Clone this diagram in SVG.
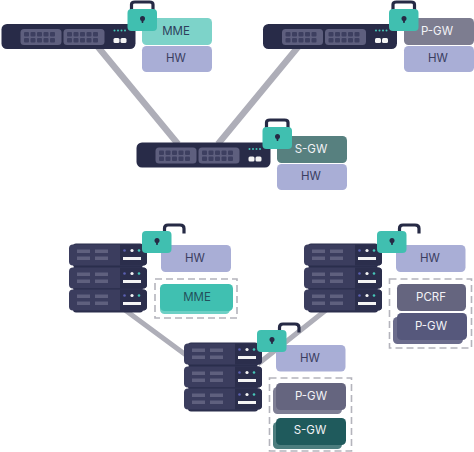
<svg xmlns="http://www.w3.org/2000/svg" xmlns:xlink="http://www.w3.org/1999/xlink" width="474" height="452" viewBox="0 0 474 452">
<style>
text{font-family:"Inter","Liberation Sans",sans-serif;font-size:11.5px;text-anchor:middle}
.hw{fill:#a9aed6}.mme{fill:#7dd3c9}.pgw{fill:#7d7d90}.sgw{fill:#57807f}
.slate{fill:#65657f}.indigo{fill:#56587c}.indigoS{fill:#6b6c8c}.teal{fill:#40c0b1}.tealS{fill:#6dd0c5}.deep{fill:#1f5a5c}.deepS{fill:#4c7d7e}.slateS{fill:#7e7e94}
.dash{fill:none;stroke:#b4b4bc;stroke-width:1.6;stroke-dasharray:7 4}
.link{stroke:#aeaeb8;fill:none}
.shackle{fill:none;stroke:#262a45;stroke-width:3.2}
</style>
<defs>
<g id="ports">
<rect width="41" height="16" rx="3.5" fill="#5e5f7e"/>
<g fill="#3d3f60"><rect x="3.5" y="3" width="5" height="4.5" rx="1"/><rect x="10" y="3" width="5" height="4.5" rx="1"/><rect x="16.500" y="3" width="5" height="4.5" rx="1"/><rect x="23" y="3" width="5" height="4.5" rx="1"/><rect x="29.500" y="3" width="5" height="4.5" rx="1"/><rect x="3.5" y="9" width="5" height="4.5" rx="1"/><rect x="10" y="9" width="5" height="4.5" rx="1"/><rect x="16.500" y="9" width="5" height="4.5" rx="1"/><rect x="23" y="9" width="5" height="4.500" rx="1"/><rect x="29.500" y="9" width="5" height="4.5" rx="1"/></g>
</g>
<g id="switch">
<rect width="134" height="25" rx="5.500" fill="#282b48"/>
<use href="#ports" x="19" y="5"/><use href="#ports" x="62" y="5"/>
<g fill="#45c6b8"><circle cx="113" cy="6.500" r="1"/><circle cx="116.500" cy="6.500" r="1"/><circle cx="120" cy="6.500" r="1"/><circle cx="123.500" cy="6.500" r="1"/></g>
<rect x="112" y="14" width="6" height="5" rx="1.500" fill="#f4f4f4"/><rect x="119" y="14" width="6" height="5" rx="1.500" fill="#f4f4f4"/>
</g>
<g id="unit">
<rect x="4" y="-1" width="70" height="24" rx="3" fill="#2b2e4c"/>
<rect width="78" height="21" rx="4" fill="#3b3d5e"/>
<path d="M51 0h23a4 4 0 0 1 4 4v13a4 4 0 0 1-4 4H51z" fill="#2b2e4c"/>
<rect x="8" y="5" width="13" height="3.500" fill="#5f607e"/><rect x="26" y="5" width="13" height="3.500" fill="#5f607e"/>
<rect x="8" y="12" width="13" height="3.500" fill="#5f607e"/><rect x="26" y="12" width="13" height="3.500" fill="#5f607e"/>
<circle cx="55.500" cy="6" r="1.300" fill="#5a5fb0"/><circle cx="63" cy="6" r="1.600" fill="#f4f4f4"/><circle cx="70" cy="6" r="1.300" fill="#45c6b8"/>
<rect x="54" y="12.500" width="18" height="3" fill="#f4f4f4"/>
</g>
<g id="server"><use href="#unit" y="0"/><use href="#unit" y="23"/><use href="#unit" y="45"/></g>
<g id="body">
<rect width="29.500" height="22" rx="4" fill="#40bfb0"/>
<circle cx="15" cy="9.500" r="2.500" fill="#262a45"/><path d="M13.700 10h2.600l-.6 4h-1.400z" fill="#262a45"/>
</g>
<g id="lockClosed"><path class="shackle" d="M4 1V-4.500Q4-7 7.500-7H22Q25.500-7 25.500-4.500V1"/><use href="#body"/></g>
<g id="lockOpen"><path class="shackle" d="M22.500 1V-2.500Q22.500-6 26-6H38Q42-6 42-2.500V2.500"/><use href="#body"/></g>
</defs>

<g id="connectors">
<path class="link" stroke-width="6.500" d="M98 47L178 144M298 47L218 144"/>
<path class="link" stroke-width="5" d="M125 310L190 358M326 310L258 364"/>
</g>

<g id="switch-mme">
<use href="#switch" x="1.500" y="24"/>
<rect class="mme" x="142" y="18" width="70" height="27" rx="4.500"/>
<rect class="hw" x="142" y="46" width="70" height="26" rx="4.500"/>
<use href="#lockClosed" x="127.500" y="9"/>
<text x="176" y="35" fill="#2d3e5c">MME</text><text x="176" y="62" fill="#3a3d60">HW</text>
</g>
<g id="switch-pgw">
<use href="#switch" x="263" y="24"/>
<rect class="pgw" x="404" y="18" width="70" height="27" rx="4.500"/>
<rect class="hw" x="404" y="46" width="70" height="26" rx="4.500"/>
<use href="#lockClosed" x="389" y="9"/>
<text x="437" y="35" fill="#f2f2f6">P-GW</text><text x="438" y="62" fill="#3a3d60">HW</text>
</g>
<g id="switch-sgw">
<use href="#switch" x="136.500" y="142.500"/>
<rect class="sgw" x="277" y="136" width="70" height="27" rx="4.500"/>
<rect class="hw" x="277" y="164" width="70" height="26" rx="4.500"/>
<use href="#lockClosed" x="262.500" y="127"/>
<text x="311" y="153" fill="#f2f2f6">S-GW</text><text x="311" y="180" fill="#3a3d60">HW</text>
</g>

<g id="server-mme">
<use href="#server" x="69" y="244.500"/>
<rect class="hw" x="161" y="245" width="70" height="27" rx="4.500"/>
<use href="#lockOpen" x="142" y="231"/>
<text x="195" y="262" fill="#3a3d60">HW</text>
<rect class="dash" x="155" y="279" width="82" height="39"/>
<rect class="tealS" x="160" y="287" width="70" height="27" rx="4.500"/>
<rect class="teal" x="160" y="284" width="73" height="27" rx="4.500"/>
<text x="197" y="301" fill="#23505c">MME</text>
</g>
<g id="server-pgw">
<use href="#server" x="304" y="244.500"/>
<rect class="hw" x="396" y="245" width="69.500" height="27" rx="4.500"/>
<use href="#lockOpen" x="377" y="231"/>
<text x="430" y="262" fill="#3a3d60">HW</text>
<rect class="dash" x="389.500" y="279" width="82" height="69"/>
<rect class="slate" x="397" y="284" width="69" height="27" rx="4.500"/>
<text x="431" y="301" fill="#f2f2f6">PCRF</text>
<rect class="indigoS" x="393" y="317" width="70" height="27" rx="4.500"/>
<rect class="indigo" x="397" y="313" width="70" height="27" rx="4.500"/>
<text x="431" y="330" fill="#f2f2f6">P-GW</text>
</g>
<g id="server-sgw">
<use href="#server" x="184" y="343.500"/>
<rect class="hw" x="276" y="345" width="69.500" height="26.500" rx="4.500"/>
<use href="#lockOpen" x="257" y="330"/>
<text x="310" y="362" fill="#3a3d60">HW</text>
<rect class="dash" x="269.500" y="378" width="82" height="73"/>
<rect class="slateS" x="273" y="387" width="69" height="27" rx="4.500"/>
<rect class="slate" x="276" y="383" width="70" height="27" rx="4.500"/>
<text x="311" y="400" fill="#f2f2f6">P-GW</text>
<rect class="deepS" x="273" y="422" width="69" height="27" rx="4.500"/>
<rect class="deep" x="276" y="418" width="70" height="27" rx="4.500"/>
<text x="310" y="434" fill="#f2f2f6">S-GW</text>
</g>
</svg>
